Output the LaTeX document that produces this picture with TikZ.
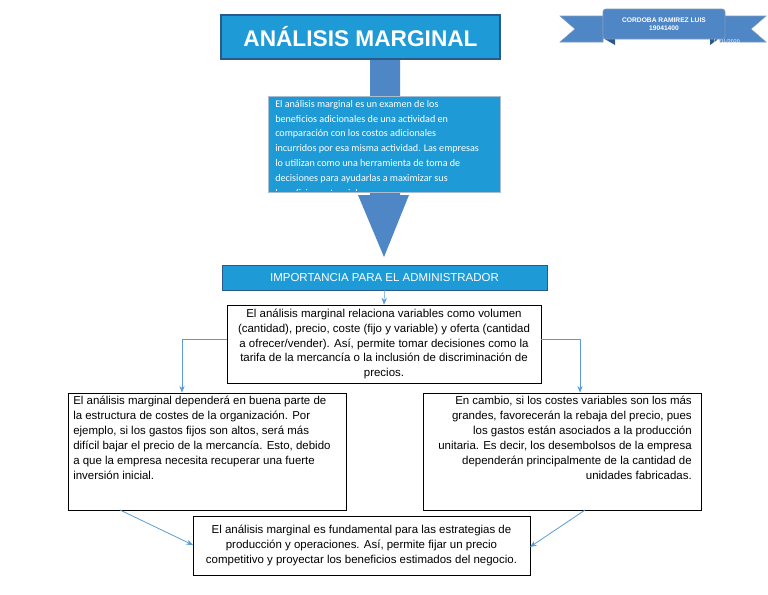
\documentclass[tikz,border=0pt]{standalone}
\usepackage{fontspec}
\setmainfont{Liberation Sans}
\newfontfamily\calfont{Carlito}
\usetikzlibrary{arrows.meta}
\definecolor{bluebox}{HTML}{1E9BD7}
\definecolor{steel}{HTML}{4F86C6}
\definecolor{darkb}{HTML}{2A5A8C}
\definecolor{lineb}{HTML}{5B9BD5}
\tikzset{
  px/.style={x=0.75pt,y=-0.75pt},
  textbox/.style={draw=black,line width=0.6pt,fill=white,inner sep=0pt},
  conn/.style={draw=lineb,line width=0.6pt,-{Stealth[length=5pt,width=4pt]}},
  bodytext/.style={font=\fontsize{8.6pt}{11.2pt}\selectfont,text=black}
}
\begin{document}
\begin{tikzpicture}[px]
\useasboundingbox (0,0) rectangle (768,594);
% big arrow
\fill[steel] (370,59) -- (400,59) -- (400,195) -- (409,195) -- (384,257) -- (358,195) -- (370,195) -- cycle;
% title
\node[draw=darkb,fill=bluebox,line width=0.8pt,minimum width=279*0.75pt,minimum height=44*0.75pt,inner sep=0pt,text=white,font=\fontsize{17pt}{20pt}\selectfont\bfseries] (title) at (360.5,37) {ANÁLISIS MARGINAL};
% definition box
\fill[bluebox,draw=darkb!40,line width=0.4pt] (268,96) rectangle (500,192);
\begin{scope}
\clip (268,96) rectangle (500,190);
\node[anchor=north west,inner sep=0pt,text width=218*0.75pt,align=justify,text=white,font=\calfont\fontsize{7.6pt}{11.1pt}\selectfont] (def) at (275,100) {El análisis marginal es un examen de los\hfill\break beneficios adicionales de una actividad en\hfill\break comparación con los costos adicionales\hfill\break incurridos por esa misma actividad. Las empresas\hfill\break lo utilizan como una herramienta de toma de\hfill\break decisiones para ayudarlas a maximizar sus\hfill\break beneficios potenciales.};
\end{scope}
% importance
\node[draw=darkb,fill=bluebox,line width=0.6pt,minimum width=325*0.75pt,minimum height=25*0.75pt,inner sep=0pt,text=white,font=\fontsize{8.6pt}{10pt}\selectfont] (imp) at (384.5,277.5) {IMPORTANCIA PARA EL ADMINISTRADOR};
% center box
\node[textbox,minimum width=314*0.75pt,minimum height=78*0.75pt] (c) at (384,344) {};
\node[bodytext,align=center,inner sep=0pt] at (c.center) {El análisis marginal relaciona variables como volumen\\(cantidad), precio, coste (fijo y variable) y oferta (cantidad\\a ofrecer/vender). Así, permite tomar decisiones como la\\tarifa de la mercancía o la inclusión de discriminación de\\precios.};
\draw[conn,line width=0.4pt] (imp.south) -- (c.north);
% left box
\node[textbox,minimum width=278*0.75pt,minimum height=117*0.75pt] (l) at (207,451.5) {};
\node[bodytext,anchor=north west,align=left,inner sep=0pt] at (73,396) {El análisis marginal dependerá en buena parte de\\la estructura de costes de la organización. Por\\ejemplo, si los gastos fijos son altos, será más\\difícil bajar el precio de la mercancía. Esto, debido\\a que la empresa necesita recuperar una fuerte\\inversión inicial.};
% right box
\node[textbox,minimum width=278*0.75pt,minimum height=117*0.75pt] (r) at (562,451.5) {};
\node[bodytext,anchor=north east,align=right,inner sep=0pt] at (692,396) {En cambio, si los costes variables son los más\\grandes, favorecerán la rebaja del precio, pues\\los gastos están asociados a la producción\\unitaria. Es decir, los desembolsos de la empresa\\dependerán principalmente de la cantidad de\\unidades fabricadas.};
% bottom box
\node[textbox,minimum width=337*0.75pt,minimum height=59*0.75pt] (b) at (361.5,545.5) {};
\node[bodytext,align=center,inner sep=0pt] at (b.center) {El análisis marginal es fundamental para las estrategias de\\producción y operaciones. Así, permite fijar un precio\\competitivo y proyectar los beneficios estimados del negocio.};
% connectors
\coordinate (lk) at (182,339);
\coordinate (rk) at (580,339);
\draw[conn] (c.west |- lk) -- (lk) -- (lk |- l.north);
\draw[conn] (c.east |- rk) -- (rk) -- (rk |- r.north);
\coordinate (ls) at (120,510);
\coordinate (rs) at (585,510);
\draw[conn] (ls) -- (193,545);
\draw[conn] (rs) -- (530,547);
% ribbon
\fill[steel,draw=darkb!60,line width=0.4pt] (560,16) -- (603,16) -- (603,42) -- (560,42) -- (575,29) -- cycle;
\fill[steel,draw=darkb!60,line width=0.4pt] (766,16) -- (720,16) -- (720,42) -- (766,42) -- (751,29) -- cycle;
\fill[darkb] (603,38) -- (615,45) -- (615,38) -- cycle;
\fill[darkb] (720,38) -- (710,45) -- (710,38) -- cycle;
\node[fill=steel,draw=darkb!60,line width=0.4pt,rounded corners=2pt,minimum width=122*0.75pt,minimum height=30*0.75pt,inner sep=0pt,align=center,text=white,font=\fontsize{5pt}{6pt}\selectfont\bfseries] (rib) at (664,24) {CORDOBA RAMIREZ LUIS\\19041400};
\node[text=white,font=\fontsize{4pt}{5pt}\selectfont,inner sep=0pt,anchor=east] (date) at (740,42) {12/11/2020};
\end{tikzpicture}
\end{document}
